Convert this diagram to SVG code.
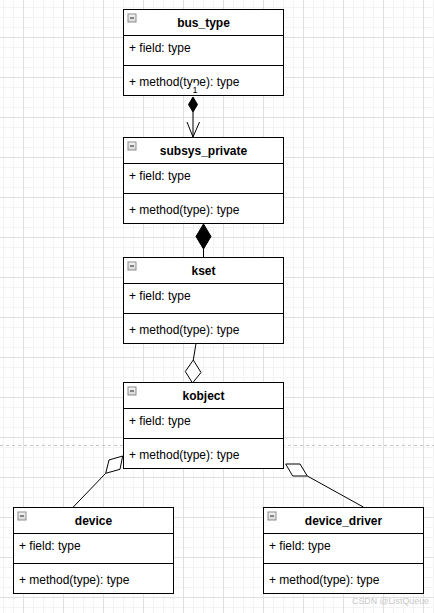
<svg xmlns="http://www.w3.org/2000/svg" width="434" height="613" viewBox="0 0 434 613">
<defs>
<pattern id="grid" patternUnits="userSpaceOnUse" x="23" y="37" width="40" height="40">
<path d="M10.5 0V40M20.5 0V40M30.5 0V40M0 10.5H40M0 20.5H40M0 30.5H40" stroke="#f3f3f3" stroke-width="1" fill="none"/>
<path d="M0.5 0V40M0 0.5H40" stroke="#e0e0e0" stroke-width="1" fill="none"/>
</pattern>
<linearGradient id="ig" x1="0" y1="0" x2="0" y2="1"><stop offset="0" stop-color="#f4f4f4"/><stop offset="1" stop-color="#d8d8d8"/></linearGradient>
<g id="icon"><rect x="0.5" y="0.5" width="8" height="8" fill="url(#ig)" stroke="#8c8c8c"/><path d="M2.5 4.5H6.5" stroke="#222" stroke-width="1"/></g>
</defs>
<style>
.box{fill:#fff;stroke:#000;stroke-width:1}
.div{stroke:#000;stroke-width:1}
.t{font-family:"Liberation Sans",Arial,sans-serif;font-size:12px;font-weight:bold;text-anchor:middle;fill:#000}
.f{font-family:"Liberation Sans",Arial,sans-serif;font-size:12px;fill:#000}
.ln{stroke:#000;stroke-width:1;fill:none}
.od{fill:#fff;stroke:#000;stroke-width:1}
.fd{fill:#000;stroke:#000;stroke-width:1}
</style>
<rect width="434" height="613" fill="#fff"/>
<rect width="434" height="613" fill="url(#grid)"/>
<path d="M0 445.5H434" stroke="#c4c4c4" stroke-width="1" stroke-dasharray="3,3"/>
<g id="connectors">
<path class="ln" d="M193 112V137M187 122L193 137L199.5 122"/>
<polygon class="fd" points="193,97 197.5,104.5 193,112 188.5,104.5"/>
<path class="ln" d="M203.5 249V257.5"/>
<polygon class="fd" points="203.5,224 211,236.5 203.5,249 196,236.5"/>
<path class="ln" d="M196 343.5L193.3 360"/>
<polygon class="od" points="193.3,360 201,372.5 192.5,383 185.3,371.5"/>
<path class="ln" d="M73.3 507L105.7 473.3"/>
<polygon class="od" points="105.7,473.3 109,460 122.7,456 120,469.3"/>
<path class="ln" d="M363.3 507L307.3 476"/>
<polygon class="od" points="285.7,464 300,464 307.3,476 292.7,476"/>
</g>
<g id="bus_type">
<rect class="box" x="123.5" y="9.5" width="160" height="86"/>
<path class="div" d="M123.5 35.5H283.5M123.5 65.5H283.5"/>
<use href="#icon" x="127.5" y="13.5"/>
<text class="t" x="203.5" y="26.5">bus_type</text>
<text class="f" x="129" y="52">+ field: type</text>
<text class="f" x="129" y="86">+ method(type): type</text>
</g>
<g id="edge-label">
<rect x="191.5" y="83" width="6" height="10" fill="#fff"/>
<text x="192.5" y="92.5" style="font-family:'Liberation Sans',Arial,sans-serif;font-size:9px;fill:#000">1</text>
</g>
<g id="subsys_private">
<rect class="box" x="123.5" y="137.5" width="160" height="86"/>
<path class="div" d="M123.5 163.5H283.5M123.5 193.5H283.5"/>
<use href="#icon" x="127.5" y="141.5"/>
<text class="t" x="203.5" y="154.5">subsys_private</text>
<text class="f" x="129" y="180">+ field: type</text>
<text class="f" x="129" y="214">+ method(type): type</text>
</g>
<g id="kset">
<rect class="box" x="123.5" y="257.5" width="160" height="86"/>
<path class="div" d="M123.5 283.5H283.5M123.5 313.5H283.5"/>
<use href="#icon" x="127.5" y="261.5"/>
<text class="t" x="203.5" y="274.5">kset</text>
<text class="f" x="129" y="300">+ field: type</text>
<text class="f" x="129" y="334">+ method(type): type</text>
</g>
<g id="kobject">
<rect class="box" x="123.5" y="382.5" width="160" height="86"/>
<path class="div" d="M123.5 408.5H283.5M123.5 438.5H283.5"/>
<use href="#icon" x="127.5" y="386.5"/>
<text class="t" x="203.5" y="399.5">kobject</text>
<text class="f" x="129" y="425">+ field: type</text>
<text class="f" x="129" y="459">+ method(type): type</text>
</g>
<g id="device">
<rect class="box" x="13.5" y="507.5" width="160" height="86"/>
<path class="div" d="M13.5 533.5H173.5M13.5 563.5H173.5"/>
<use href="#icon" x="17.5" y="511.5"/>
<text class="t" x="93.5" y="524.5">device</text>
<text class="f" x="19" y="550">+ field: type</text>
<text class="f" x="19" y="584">+ method(type): type</text>
</g>
<g id="device_driver">
<rect class="box" x="263.5" y="507.5" width="160" height="86"/>
<path class="div" d="M263.5 533.5H423.5M263.5 563.5H423.5"/>
<use href="#icon" x="267.5" y="511.5"/>
<text class="t" x="343.5" y="524.5">device_driver</text>
<text class="f" x="269" y="550">+ field: type</text>
<text class="f" x="269" y="584">+ method(type): type</text>
</g>
<text x="352" y="604" textLength="77" lengthAdjust="spacingAndGlyphs" style="font-family:'Liberation Sans',Arial,sans-serif;font-size:9.5px;fill:#c8c8c8">CSDN @ListQueue</text>
</svg>
